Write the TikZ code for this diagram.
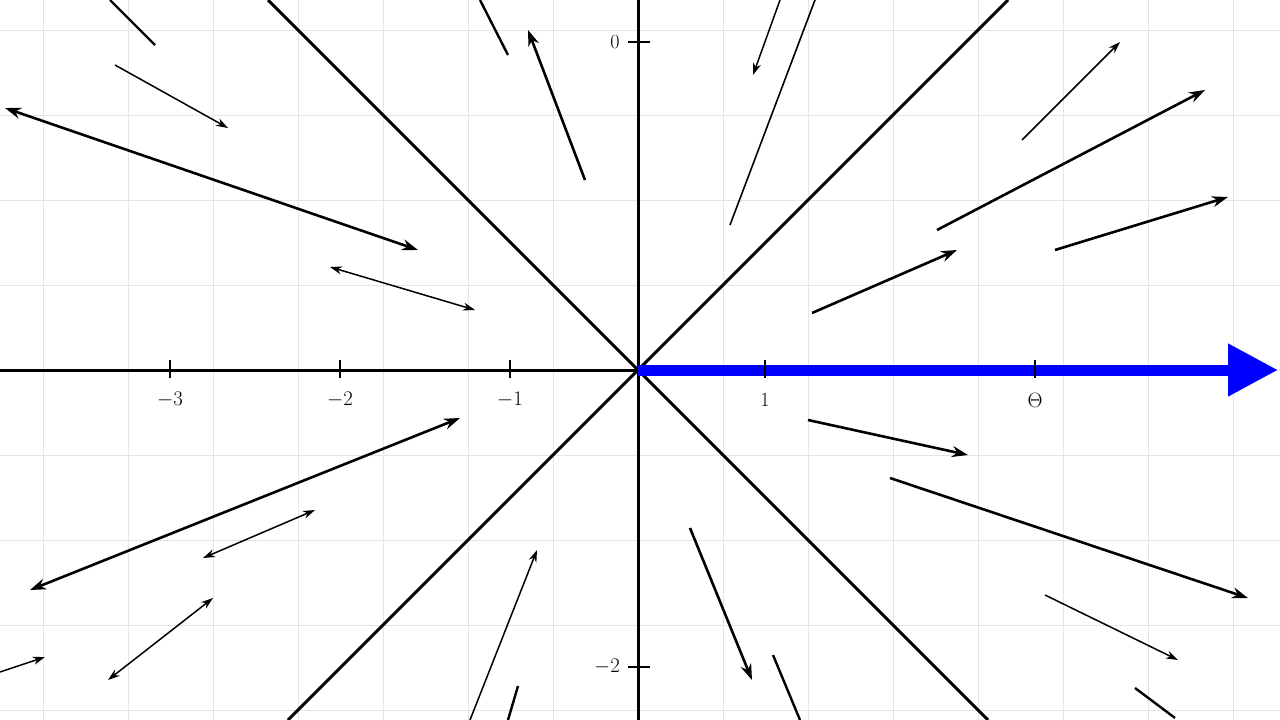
\documentclass[tikz,border=0pt]{standalone}
\usetikzlibrary{arrows.meta}
\begin{document}
\begin{tikzpicture}[x=1pt,y=-1pt,
  vec/.style={line width=2.6pt,-{Stealth[length=16pt,width=11pt]}},
  vecb/.style={line width=2.6pt,{Stealth[length=16pt,width=11pt]}-{Stealth[length=16pt,width=11pt]}},
  thin vec/.style={line width=1.5pt,-{Stealth[length=12pt,width=8pt]}},
  thin vecb/.style={line width=1.5pt,{Stealth[length=12pt,width=8pt]}-{Stealth[length=12pt,width=8pt]}},
  seg/.style={line width=2.4pt},
  lbl/.style={font=\fontsize{20}{22}\selectfont}]
\useasboundingbox (0,0) rectangle (1280,720);
\fill[white] (0,0) rectangle (1280,720);
\foreach \x in {-7,...,7} \draw[black!10] ({638+85*\x},0) -- ({638+85*\x},720);
\foreach \y in {-5,...,5} \draw[black!10] (0,{370+85*\y}) -- (1280,{370+85*\y});
\coordinate (O) at (638,370);
% axes and diagonals
\draw[line width=3pt] (0,370) -- (O);
\draw[line width=3pt] (638,0) -- (638,720);
\draw[line width=3pt] (268,0) -- (O) -- (988,720);
\draw[line width=3pt] (1008,0) -- (O) -- (288,720);
\draw[blue,line width=11pt,-{Triangle[length=50pt,width=50pt]}] (O) -- (1278,370);
% ticks
\foreach \x/\t in {170/$-3$,340/$-2$,510/$-1$,765/1,1035/$\Theta$}{
  \draw[line width=1.8pt] (\x,360) -- (\x,378);
  \node[lbl] at (\x,400) {\t};}
\draw[line width=1.8pt] (628,42) -- (650,42); \node[lbl] at (615,42) {0};
\draw[line width=1.8pt] (628,667) -- (650,667); \node[lbl] at (607,667) {$-2$};
% vectors
\draw[seg] (110,0) -- (155,45);
\draw[thin vec] (115,65) -- (228,128);
\draw[vecb] (418,250) -- (5,108);
\draw[thin vecb] (330,267) -- (475,310);
\draw[seg] (480,0) -- (508,55);
\draw[vec] (585,180) -- (528,30);
\draw[thin vec] (780,0) -- (753,75);
\draw[line width=1.6pt] (815,0) -- (730,225);
\draw[thin vec] (1022,140) -- (1120,42);
\draw[vec] (937,230) -- (1205,90);
\draw[vec] (1055,250) -- (1228,197);
\draw[vec] (812,313) -- (957,250);
\draw[vec] (808,420) -- (968,455);
\draw[vec] (890,478) -- (1248,598);
\draw[thin vec] (1045,595) -- (1178,660);
\draw[seg] (1135,688) -- (1175,718);
\draw[vec] (690,528) -- (752,680);
\draw[seg] (773,655) -- (800,720);
\draw[vecb] (30,590) -- (460,418);
\draw[thin vecb] (203,558) -- (315,510);
\draw[thin vecb] (108,680) -- (213,598);
\draw[thin vec] (0,672) -- (45,657);
\draw[thin vec] (470,720) -- (537,550);
\draw[seg] (508,720) -- (518,686);
\end{tikzpicture}
\end{document}
